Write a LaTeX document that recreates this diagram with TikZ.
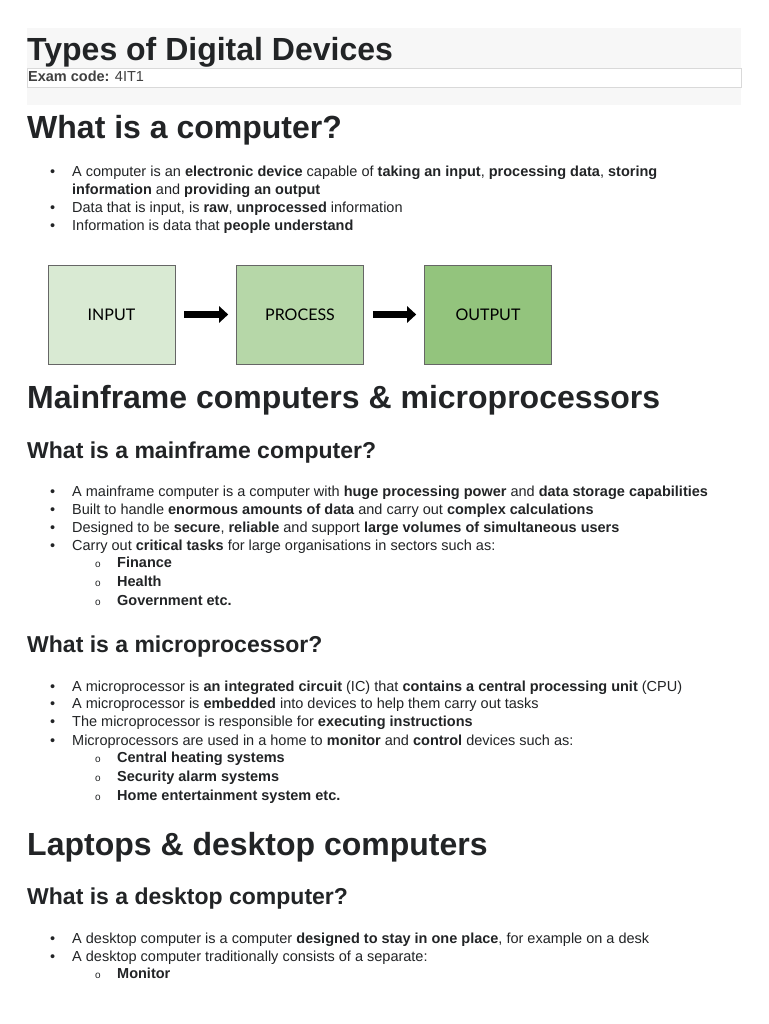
\documentclass[tikz,border=0pt]{standalone}
\usepackage{fontspec}
\usetikzlibrary{arrows.meta}
\setmainfont{Liberation Sans}
\newfontfamily\boxfont{Lato}
\definecolor{txt}{HTML}{222426}
\definecolor{c1}{HTML}{D9EAD3}
\definecolor{c2}{HTML}{B6D7A8}
\definecolor{c3}{HTML}{93C47D}
\begin{document}
\begin{tikzpicture}[x=1pt,y=-1pt,
  every node/.style={inner sep=0pt,text=txt,anchor=base west},
  h1/.style={font=\fontsize{32}{36}\selectfont\bfseries},
  h2/.style={font=\fontsize{23}{27}\selectfont\bfseries},
  body/.style={font=\fontsize{14.5}{17}\selectfont},
  proc/.style={draw=black!60,line width=0.6pt,minimum width=127pt,minimum height=99pt,anchor=center,font=\boxfont\fontsize{16}{18}\selectfont,text=black},
  arr/.style={-{Triangle[length=9pt,width=16pt]},line width=7pt,black}]
\useasboundingbox (0,0) rectangle (768,1024);
\fill[white] (0,0) rectangle (768,1024);
\fill[black!3] (27,28) rectangle (741,105);
\draw[black!15,fill=white] (27,68) rectangle (741,87);
\newcommand\bl[2]{\node[body] at (50,#1) {\textbullet}; \node[body] at (72,#1) {#2};}
\newcommand\sbl[2]{\node[body,font=\fontsize{10}{12}\selectfont] at (95,#1) {o}; \node[body] at (117,#1) {\textbf{#2}};}
\node[h1] (t) at (27,61) {Types of Digital Devices};
\node[body,text=black!75] (ec) at (28,82) {\textbf{Exam code:} 4IT1};
\node[h1] (h1a) at (27,139) {What is a computer?};
\bl{177}{A computer is an \textbf{electronic device} capable of \textbf{taking an input}, \textbf{processing data}, \textbf{storing}}
\node[body] at (72,195) {\textbf{information} and \textbf{providing an output}};
\bl{213}{Data that is input, is \textbf{raw}, \textbf{unprocessed} information}
\bl{231}{Information is data that \textbf{people understand}}
\node[proc,fill=c1] (in) at (111.5,314.5) {INPUT};
\node[proc,fill=c2] (pr) at (300,314.5) {PROCESS};
\node[proc,fill=c3] (out) at (488,314.5) {OUTPUT};
\draw[arr] ([xshift=9pt]in.east) -- ([xshift=-8pt]pr.west);
\draw[arr] ([xshift=9pt]pr.east) -- ([xshift=-8pt]out.west);
\node[h1] at (27,408) {Mainframe computers \& microprocessors};
\node[h2] at (27,458) {What is a mainframe computer?};
\bl{496}{A mainframe computer is a computer with \textbf{huge processing power} and \textbf{data storage capabilities}}
\bl{514}{Built to handle \textbf{enormous amounts of data} and carry out \textbf{complex calculations}}
\bl{532}{Designed to be \textbf{secure}, \textbf{reliable} and support \textbf{large volumes of simultaneous users}}
\bl{550}{Carry out \textbf{critical tasks} for large organisations in sectors such as:}
\sbl{567}{Finance}
\sbl{586}{Health}
\sbl{605}{Government etc.}
\node[h2] at (27,652) {What is a microprocessor?};
\bl{691}{A microprocessor is \textbf{an integrated circuit} (IC) that \textbf{contains a central processing unit} (CPU)}
\bl{708}{A microprocessor is \textbf{embedded} into devices to help them carry out tasks}
\bl{726}{The microprocessor is responsible for \textbf{executing instructions}}
\bl{745}{Microprocessors are used in a home to \textbf{monitor} and \textbf{control} devices such as:}
\sbl{762}{Central heating systems}
\sbl{781}{Security alarm systems}
\sbl{800}{Home entertainment system etc.}
\node[h1] at (27,855) {Laptops \& desktop computers};
\node[h2] at (27,904) {What is a desktop computer?};
\bl{943}{A desktop computer is a computer \textbf{designed to stay in one place}, for example on a desk}
\bl{961}{A desktop computer traditionally consists of a separate:}
\sbl{978}{Monitor}
\end{tikzpicture}
\end{document}
